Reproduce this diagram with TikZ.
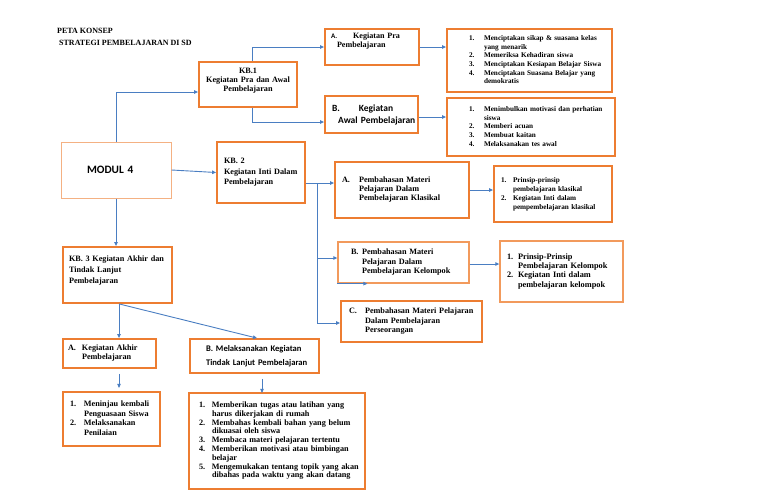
\documentclass[tikz,border=0pt]{standalone}
\usepackage{fontspec}
\setmainfont{Liberation Serif}
\newfontfamily\calibri{Carlito}
\usetikzlibrary{arrows.meta}
\definecolor{oranye}{HTML}{ED7D31}
\definecolor{oranyesedang}{HTML}{F29A5C}
\definecolor{oranyemuda}{HTML}{F4B183}
\definecolor{biru}{HTML}{4A7EC2}
\newcommand{\ukuran}[2]{\fontsize{#1}{#2}\selectfont}
\newcommand{\daftar}[2]{\begin{tabular}{@{}p{#1}@{}l@{}}#2\end{tabular}}
\newcommand{\naik}[1]{\par\leavevmode\rule{0pt}{#1}}
\tikzset{
  kotak/.style={draw=oranye, line width=1.8pt, inner ysep=0pt, align=left, font=\bfseries\ukuran{8.2}{9.2}},
  kotaksedang/.style={kotak, draw=oranyesedang, line width=1.3pt},
  kotaktipis/.style={kotak, draw=oranyemuda, line width=1pt},
  panah/.style={draw=biru, line width=0.9pt, -{Triangle[length=4pt,width=3.5pt]}},
  garis/.style={draw=biru, line width=0.9pt}
}
\begin{document}
\begin{tikzpicture}[x=1pt,y=-1pt]
\useasboundingbox (0,0) rectangle (768,501);
\node[anchor=north west, inner sep=0pt, align=left, font=\bfseries\ukuran{8}{12}] (judul) at (57,28) {PETA KONSEP\\\hspace*{2pt}STRATEGI PEMBELAJARAN DI SD};

\node[kotaktipis, minimum width=110, minimum height=56, inner xsep=26pt, text width=58pt, font=\calibri\bfseries\ukuran{11.3}{13}] (modul) at (116,170) {MODUL 4};
\node[kotak, minimum width=98, minimum height=45, inner xsep=4pt, text width=90pt, align=center, font=\bfseries\ukuran{8.2}{9}] (kb1) at (248,84.5) {KB.1\\Kegiatan Pra dan Awal\\Pembelajaran\naik{6pt}};
\node[kotak, minimum width=94, minimum height=36, inner xsep=6pt, text width=82pt, font=\bfseries\ukuran{8.1}{9}] (praA) at (372,47) {{\calibri\ukuran{7}{9}A.}\hspace{16pt}Kegiatan Pra\\\hspace*{6pt}Pembelajaran\naik{10pt}};
\node[kotak, minimum width=93, minimum height=37, inner xsep=4pt, text width=85pt, font=\calibri\bfseries\ukuran{9.5}{12}] (awalB) at (371.5,114.5) {\hspace*{3pt}B.\hspace{19pt}Kegiatan\\\hspace*{9pt}\mbox{Awal Pembelajaran}};
\node[kotak, minimum width=165, minimum height=63, inner xsep=22pt, text width=121pt, font=\bfseries\ukuran{7.2}{8.6}] (daftarPra) at (529.5,60.5) {\daftar{15pt}{1. & Menciptakan sikap \& suasana kelas\\ & yang menarik\\ 2. & Memeriksa Kehadiran siswa\\ 3. & Menciptakan Kesiapan Belajar Siswa\\ 4. & Menciptakan Suasana Belajar yang\\ & demokratis}};
\node[kotak, minimum width=168, minimum height=58, inner xsep=22pt, text width=124pt, font=\bfseries\ukuran{7.2}{8.7}] (daftarAwal) at (531,127) {\daftar{15pt}{1. & Menimbulkan motivasi dan perhatian\\ & siswa\\ 2. & Memberi acuan\\ 3. & Membuat kaitan\\ 4. & Melaksanakan tes awal}};

\node[kotak, minimum width=88, minimum height=61, inner xsep=7pt, text width=74pt, font=\bfseries\ukuran{8.2}{10.5}] (kb2) at (261,172.5) {KB. 2\\Kegiatan Inti Dalam\\Pembelajaran};
\node[kotak, minimum width=134, minimum height=56, inner xsep=7pt, text width=120pt, font=\bfseries\ukuran{8.2}{9}] (klasA) at (402,190) {\daftar{17pt}{A. & Pembahasan Materi\\ & Pelajaran Dalam\\ & Pembelajaran Klasikal}};
\node[kotak, minimum width=118, minimum height=56, inner xsep=7pt, text width=104pt, font=\bfseries\ukuran{7.2}{9}] (daftarKlas) at (553,194) {\daftar{12pt}{1. & Prinsip-prinsip\\ & pembelajaran klasikal\\ 2. & Kegiatan Inti dalam\\ & pempembelajaran klasikal}};
\node[kotaksedang, minimum width=131, minimum height=41, inner xsep=13pt, text width=105pt, font=\bfseries\ukuran{8.2}{9.5}] (kelB) at (403.5,262.5) {\daftar{11pt}{B. & Pembahasan Materi\\ & Pelajaran Dalam\\ & Pembelajaran Kelompok}};
\node[kotaksedang, minimum width=123, minimum height=61, inner xsep=7pt, text width=109pt, font=\bfseries\ukuran{8.3}{9.2}] (daftarKel) at (561.5,271.5) {\daftar{11pt}{1. & Prinsip-Prinsip\\ & Pembelajaran Kelompok\\ 2. & Kegiatan Inti dalam\\ & pembelajaran kelompok}};
\node[kotak, minimum width=141, minimum height=41, inner xsep=8pt, text width=125pt, font=\bfseries\ukuran{8.2}{9.5}] (perC) at (411.5,321.5) {\daftar{16pt}{C. & Pembahasan Materi Pelajaran\\ & Dalam Pembelajaran\\ & Perseorangan}};

\node[kotak, minimum width=109, minimum height=56, inner xsep=6pt, text width=97pt, font=\bfseries\ukuran{8.2}{11}] (kb3) at (117.5,275) {KB. 3 Kegiatan Akhir dan\\Tindak Lanjut\\Pembelajaran\naik{6pt}};
\node[kotak, minimum width=93, minimum height=29, inner xsep=5pt, text width=83pt, font=\bfseries\ukuran{8.2}{9}] (akhirA) at (109.5,353.5) {\daftar{14pt}{A. & Kegiatan Akhir\\ & Pembelajaran}};
\node[kotak, minimum width=129, minimum height=34, inner xsep=16pt, text width=97pt, font=\calibri\bfseries\ukuran{8.6}{14}] (tindakB) at (254.5,356) {\mbox{B. Melaksanakan Kegiatan}\\\mbox{Tindak Lanjut Pembelajaran}};
\node[kotak, minimum width=97, minimum height=54, inner xsep=7pt, text width=83pt, font=\bfseries\ukuran{8.2}{9.7}] (daftarAkhir) at (111.5,419) {\daftar{14pt}{1. & Meninjau kembali\\ & Penguasaan Siswa\\ 2. & Melaksanakan\\ & Penilaian}};
\node[kotak, minimum width=176, minimum height=96, inner xsep=10pt, text width=156pt, font=\bfseries\ukuran{8.2}{8.8}] (daftarTindak) at (277,441) {\daftar{13pt}{1. & Memberikan tugas atau latihan yang\\ & harus dikerjakan di rumah\\ 2. & Membahas kembali bahan yang belum\\ & dikuasai oleh siswa\\ 3. & Membaca materi pelajaran tertentu\\ 4. & Memberikan motivasi atau bimbingan\\ & belajar\\ 5. & Mengemukakan tentang topik yang akan\\ & dibahas pada waktu yang akan datang}};

\draw[panah] (modul.north) |- ([yshift=-7.5pt]kb1.west);
\draw[panah] (modul.east) -- (kb2.west);
\draw[panah] (modul.south) -- (modul.south |- kb3.north);
\draw[panah] ([xshift=4pt]kb1.north) |- (praA.west);
\draw[panah] ([xshift=4pt]kb1.south) |- ([yshift=-7.5pt]awalB.west);
\draw[panah] (praA.east) -- (praA.east -| daftarPra.west);
\draw[panah] ([yshift=-2.5pt]awalB.east) -- ([yshift=-2.5pt]awalB.east -| daftarAwal.west);
\coordinate (cabang) at (317,183);
\draw[garis] (kb2.east |- cabang) -- (cabang);
\draw[panah] (cabang) -- (cabang -| klasA.west);
\draw[panah] (cabang) |- ([yshift=4.5pt]kelB.west);
\draw[panah] (cabang) |- ([yshift=-1.5pt]perC.west);
\draw[panah] (klasA.east) -- (klasA.east -| daftarKlas.west);
\draw[panah] ([yshift=-1.5pt]kelB.east) -- ([yshift=-1.5pt]kelB.east -| daftarKel.west);
\draw[panah] (kelB.south west) -- ([xshift=30pt]kelB.south west);
\draw[panah] ([xshift=1.5pt]kb3.south) -- ([xshift=9.5pt]akhirA.north);
\draw[panah] ([xshift=1.5pt]kb3.south) -- ([xshift=2.5pt]tindakB.north);
\draw[panah] ([xshift=9.5pt,yshift=-5pt]akhirA.south) -- ++(0,14);
\draw[panah] ([xshift=7.5pt,yshift=-5pt]tindakB.south) -- ++(0,14);
\end{tikzpicture}
\end{document}
